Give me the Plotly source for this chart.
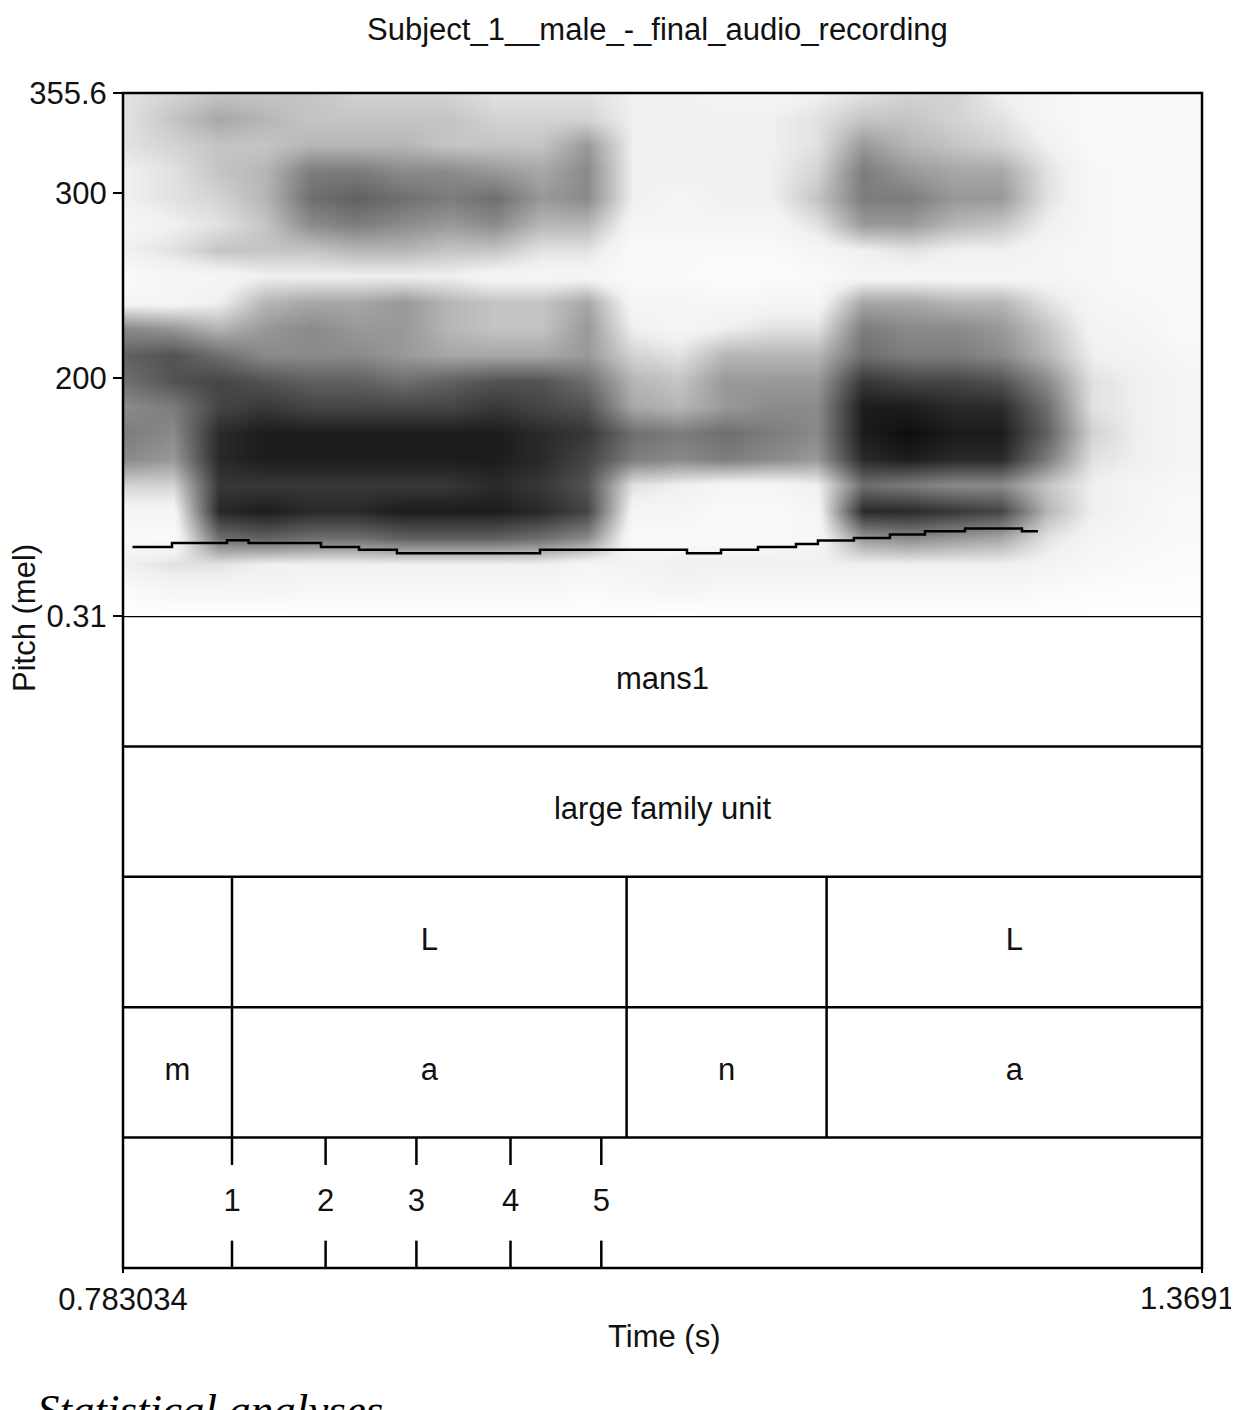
import numpy as np
import plotly.graph_objects as go

# time window shown (s)
t_start = 0.783034
t_end = 1.3691

# pitch axis, as labelled in the picture (mel)
pitch_ticks = [0.31, 200, 300, 355.6]
pitch_tick_text = ['0.31', '200', '300', '355.6']

# pitch contour (stepped)
pitch_time = [0.78819, 0.80965, 0.83952, 0.85125, 0.89058, 0.91122, 0.93186, 1.00953, 1.08938,
              1.10784, 1.12794, 1.14858, 1.16049, 1.18004, 1.19960, 1.21861, 1.24033, 1.27129, 1.27998]
pitch_mel = [58.1, 61.6, 63.8, 61.6, 58.1, 55.9, 53.0, 55.9, 53.0,
             55.9, 58.1, 60.7, 63.6, 65.8, 68.6, 71.5, 73.7, 71.5, 71.5]

# spectrogram darkness, coarse grid estimated by eye (0 = white, 1 = black)
spec_time = [0.785, 0.81, 0.835, 0.86, 0.885, 0.91, 0.935, 0.96, 0.985, 1.01, 1.035, 1.06,
             1.085, 1.11, 1.135, 1.16, 1.185, 1.21, 1.235, 1.26, 1.285, 1.31, 1.335, 1.36]
spec_band = [1.0, 0.95, 0.9, 0.85, 0.8, 0.75, 0.7, 0.65, 0.6, 0.55, 0.5,
             0.45, 0.4, 0.35, 0.3, 0.25, 0.2, 0.15, 0.1, 0.05, 0.0]
spec_level = [
    [0.2, 0.25, 0.3, 0.3, 0.3, 0.25, 0.25, 0.25, 0.2, 0.2, 0.2, 0.15, 0.15, 0.1, 0.1, 0.15, 0.2, 0.25, 0.25, 0.15, 0.1, 0.05, 0.05, 0.05],
    [0.2, 0.3, 0.4, 0.35, 0.3, 0.3, 0.3, 0.3, 0.25, 0.25, 0.25, 0.15, 0.15, 0.15, 0.15, 0.2, 0.3, 0.3, 0.25, 0.2, 0.1, 0.05, 0.05, 0.05],
    [0.2, 0.25, 0.3, 0.3, 0.35, 0.35, 0.35, 0.3, 0.3, 0.3, 0.45, 0.15, 0.15, 0.15, 0.15, 0.2, 0.45, 0.35, 0.3, 0.25, 0.15, 0.05, 0.05, 0.05],
    [0.15, 0.2, 0.3, 0.35, 0.55, 0.55, 0.5, 0.5, 0.45, 0.4, 0.5, 0.15, 0.15, 0.15, 0.15, 0.25, 0.55, 0.45, 0.4, 0.4, 0.2, 0.08, 0.05, 0.05],
    [0.15, 0.2, 0.25, 0.35, 0.6, 0.65, 0.6, 0.55, 0.6, 0.45, 0.5, 0.15, 0.1, 0.15, 0.15, 0.3, 0.55, 0.55, 0.45, 0.45, 0.2, 0.08, 0.05, 0.05],
    [0.1, 0.15, 0.2, 0.3, 0.5, 0.55, 0.5, 0.45, 0.5, 0.35, 0.35, 0.1, 0.1, 0.1, 0.1, 0.2, 0.45, 0.45, 0.35, 0.3, 0.15, 0.08, 0.05, 0.05],
    [0.15, 0.2, 0.3, 0.3, 0.3, 0.35, 0.35, 0.3, 0.3, 0.2, 0.2, 0.05, 0.05, 0.05, 0.05, 0.1, 0.15, 0.2, 0.15, 0.15, 0.1, 0.08, 0.05, 0.05],
    [0.05, 0.1, 0.1, 0.15, 0.15, 0.15, 0.15, 0.15, 0.1, 0.1, 0.1, 0.05, 0.05, 0.03, 0.03, 0.05, 0.1, 0.1, 0.1, 0.1, 0.1, 0.08, 0.05, 0.05],
    [0.1, 0.1, 0.15, 0.35, 0.4, 0.4, 0.45, 0.35, 0.3, 0.3, 0.4, 0.1, 0.1, 0.08, 0.1, 0.1, 0.4, 0.4, 0.35, 0.35, 0.2, 0.1, 0.08, 0.05],
    [0.5, 0.45, 0.35, 0.45, 0.5, 0.45, 0.45, 0.35, 0.3, 0.3, 0.45, 0.15, 0.1, 0.15, 0.2, 0.2, 0.55, 0.5, 0.5, 0.45, 0.3, 0.12, 0.1, 0.05],
    [0.65, 0.7, 0.6, 0.5, 0.5, 0.5, 0.45, 0.4, 0.4, 0.4, 0.45, 0.25, 0.2, 0.35, 0.35, 0.35, 0.6, 0.55, 0.55, 0.5, 0.35, 0.15, 0.12, 0.08],
    [0.6, 0.7, 0.75, 0.7, 0.65, 0.65, 0.6, 0.65, 0.7, 0.7, 0.6, 0.35, 0.3, 0.45, 0.45, 0.45, 0.8, 0.75, 0.75, 0.7, 0.5, 0.2, 0.15, 0.1],
    [0.5, 0.55, 0.75, 0.8, 0.75, 0.75, 0.75, 0.75, 0.8, 0.75, 0.7, 0.4, 0.35, 0.45, 0.5, 0.5, 0.9, 0.9, 0.85, 0.85, 0.6, 0.2, 0.15, 0.1],
    [0.55, 0.5, 0.85, 0.9, 0.9, 0.9, 0.9, 0.9, 0.9, 0.85, 0.8, 0.6, 0.55, 0.6, 0.55, 0.5, 0.9, 0.95, 0.9, 0.9, 0.65, 0.25, 0.15, 0.1],
    [0.5, 0.45, 0.85, 0.9, 0.9, 0.9, 0.9, 0.9, 0.9, 0.85, 0.75, 0.55, 0.5, 0.55, 0.5, 0.45, 0.85, 0.9, 0.85, 0.85, 0.55, 0.2, 0.15, 0.1],
    [0.25, 0.25, 0.8, 0.8, 0.8, 0.8, 0.8, 0.8, 0.85, 0.8, 0.7, 0.2, 0.15, 0.1, 0.1, 0.15, 0.6, 0.55, 0.5, 0.5, 0.3, 0.15, 0.1, 0.08],
    [0.1, 0.1, 0.85, 0.9, 0.85, 0.85, 0.9, 0.9, 0.9, 0.85, 0.75, 0.1, 0.1, 0.05, 0.05, 0.1, 0.85, 0.85, 0.8, 0.75, 0.35, 0.15, 0.1, 0.05],
    [0.05, 0.05, 0.6, 0.65, 0.6, 0.6, 0.65, 0.65, 0.65, 0.6, 0.5, 0.05, 0.05, 0.05, 0.05, 0.08, 0.45, 0.5, 0.45, 0.4, 0.2, 0.1, 0.08, 0.05],
    [0.15, 0.2, 0.2, 0.15, 0.15, 0.15, 0.15, 0.15, 0.15, 0.15, 0.1, 0.12, 0.15, 0.15, 0.15, 0.15, 0.15, 0.15, 0.15, 0.15, 0.12, 0.08, 0.05, 0.03],
    [0.05, 0.1, 0.1, 0.1, 0.08, 0.08, 0.08, 0.08, 0.08, 0.08, 0.05, 0.08, 0.1, 0.08, 0.08, 0.08, 0.08, 0.08, 0.08, 0.08, 0.05, 0.03, 0.02, 0.02],
    [0.0] * 24,
]

# TextGrid tiers
word_label = 'mans1'
gloss_label = 'large family unit'
tier_bounds = [t_start, 0.842238, 1.056569, 1.165201, t_end]
tone_labels = ['', 'L', '', 'L']
seg_labels = ['m', 'a', 'n', 'a']
point_times = [0.842238, 0.893078, 0.942397, 0.993509, 1.042827]
point_labels = ['1', '2', '3', '4', '5']

FONT = 'Liberation Sans, Arial, sans-serif'
INK = '#111111'

# the pitch axis in the picture is not linear between its labels
def pitch_pos(m):
    return np.interp(m, pitch_ticks, [0, 238 / 523, 423 / 523, 1])

spec_split = 652 / 1175  # bottom of spectrogram panel (paper units)

fig = go.Figure()

fig.add_trace(go.Heatmap(x=spec_time, y=spec_band[::-1], z=spec_level[::-1],
                         colorscale=[[0, '#ffffff'], [0.15, '#f0f0f0'], [0.5, '#8a8a8a'], [1, '#000000']],
                         zmin=0, zmax=1, zsmooth='best', showscale=False, hoverinfo='skip'))

fig.add_trace(go.Scatter(x=pitch_time, y=pitch_pos(pitch_mel), mode='lines', line_shape='hv',
                         line=dict(color='black', width=2.5), hoverinfo='skip', showlegend=False))

# interval tiers: tier k sits between y2 = k and k + 1 (counted from bottom)
mids = [(a + b) / 2 for a, b in zip(tier_bounds[:-1], tier_bounds[1:])]
tier_text_x = [(t_start + t_end) / 2, (t_start + t_end) / 2] + mids + mids
tier_text_y = [4.5, 3.5] + [2.5] * len(mids) + [1.5] * len(mids)
tier_text = [word_label, gloss_label] + tone_labels + seg_labels
fig.add_trace(go.Scatter(x=tier_text_x, y=tier_text_y, text=tier_text, mode='text', yaxis='y2',
                         textfont=dict(family=FONT, size=31, color=INK),
                         hoverinfo='skip', showlegend=False))

# point tier labels
fig.add_trace(go.Scatter(x=point_times, y=[0.5] * len(point_times), text=point_labels, mode='text',
                         yaxis='y2', textfont=dict(family=FONT, size=31, color=INK),
                         hoverinfo='skip', showlegend=False))

shapes = []
line = dict(color='black', width=2.5)
for k in range(1, 6):
    shapes.append(dict(type='line', xref='paper', x0=0, x1=1, yref='y2', y0=k, y1=k, line=line))
for b in tier_bounds[1:-1]:
    shapes.append(dict(type='line', xref='x', x0=b, x1=b, yref='y2', y0=1, y1=3, line=line))
for p in point_times:
    shapes.append(dict(type='line', xref='x', x0=p, x1=p, yref='y2', y0=0.79, y1=1, line=line))
    shapes.append(dict(type='line', xref='x', x0=p, x1=p, yref='y2', y0=0, y1=0.21, line=line))
shapes.append(dict(type='rect', xref='paper', yref='paper', x0=0, x1=1, y0=0, y1=1, line=line))

fig.update_layout(
    width=1231, height=1402,
    margin=dict(l=115, r=37, t=85, b=142, autoexpand=False),
    paper_bgcolor='white', plot_bgcolor='white',
    showlegend=False,
    shapes=shapes,
    xaxis=dict(range=[t_start, t_end], anchor='y2', tickvals=[t_start + 1e-7, t_end - 1e-7],
               ticktext=['0.783034', ''], ticks='outside', ticklen=4, tickwidth=2,
               tickcolor='black', showgrid=False, zeroline=False, showline=False,
               automargin=False, tickfont=dict(family=FONT, size=31, color=INK)),
    yaxis=dict(domain=[spec_split, 1], range=[0, 1], anchor='x',
               tickvals=pitch_pos(pitch_ticks), ticktext=pitch_tick_text,
               ticks='outside', ticklen=9, tickwidth=2, tickcolor='black',
               showgrid=False, zeroline=False, showline=False, automargin=False,
               tickfont=dict(family=FONT, size=31, color=INK)),
    yaxis2=dict(domain=[0, spec_split], range=[0, 5], anchor='x', showticklabels=False,
                ticks='', showgrid=False, zeroline=False, showline=False),
    annotations=[
        dict(text='Subject_1__male_-_final_audio_recording', xref='paper', yref='paper',
             x=(657 - 123) / 1079, y=(1268 - 30) / 1175, xanchor='center', yanchor='middle',
             showarrow=False, font=dict(family=FONT, size=31, color=INK)),
        dict(text='Pitch (mel)', textangle=-90, xref='paper', yref='paper',
             x=(24 - 123) / 1079, y=(1268 - 618) / 1175, xanchor='center', yanchor='middle',
             showarrow=False, font=dict(family=FONT, size=31, color=INK)),
        # right-hand time label, pulled in so it stays on the page
        dict(text=str(t_end), xref='paper', yref='paper',
             x=(1237 - 123) / 1079, y=(1268 - 1298) / 1175, xanchor='right', yanchor='middle',
             showarrow=False, font=dict(family=FONT, size=31, color=INK)),
        dict(text='Time (s)', xref='paper', yref='paper',
             x=(664 - 123) / 1079, y=(1268 - 1336) / 1175, xanchor='center', yanchor='middle',
             showarrow=False, font=dict(family=FONT, size=31, color=INK)),
        dict(text='<i>Statistical analyses</i>', xref='paper', yref='paper',
             x=(35 - 123) / 1079, y=(1268 - 1383) / 1175, xanchor='left', yanchor='top',
             showarrow=False, font=dict(family='Liberation Serif, Times New Roman, serif',
                                        size=45, color='black')),
    ],
)

fig.write_html("out.html")
